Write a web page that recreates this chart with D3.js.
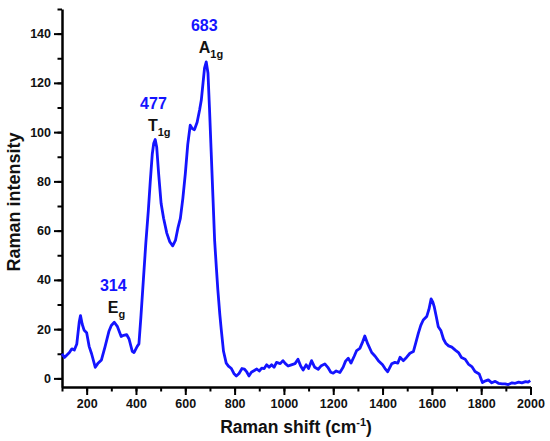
<!DOCTYPE html>
<html>
<head>
<meta charset="utf-8">
<script src="https://cdn.jsdelivr.net/npm/d3@7"></script>
<style>
  body { margin: 0; background: #fff; }
  text { font-family: Arial, "Liberation Sans", sans-serif; }
</style>
</head>
<body>
<div id="chart"></div>
<script>
// Raman spectrum
var ramanShift = [100, 110, 120, 130, 140, 150, 160, 170, 175, 182, 190, 200, 210, 220, 235, 245, 260, 275, 290, 300,
    312, 325, 340, 350, 362, 372, 385, 392, 405, 412, 420, 430, 440, 450, 458, 466, 472, 478, 484, 492,
    502, 512, 525, 537, 549, 560, 570, 580, 590, 600, 610, 620, 628, 637, 648, 658, 665, 672, 678, 685,
    692, 698, 705, 712, 719, 726, 732, 740, 746, 755, 766, 775, 787, 797, 807, 818, 830, 840, 850, 858,
    868, 880, 890, 900, 910, 920, 930, 940, 950, 960, 970, 985, 996, 1006, 1017, 1030, 1045, 1057, 1068, 1078,
    1090, 1100, 1112, 1125, 1139, 1150, 1166, 1178, 1190, 1200, 1212, 1227, 1240, 1250, 1261, 1272, 1285, 1295, 1308, 1318,
    1328, 1340, 1356, 1370, 1383, 1400, 1410, 1421, 1437, 1450, 1462, 1471, 1484, 1497, 1511, 1525, 1535, 1545, 1555, 1565,
    1579, 1588, 1597, 1604, 1610, 1618, 1626, 1637, 1647, 1656, 1668, 1681, 1695, 1708, 1720, 1735, 1748, 1762, 1775, 1792,
    1805, 1818, 1829, 1843, 1857, 1870, 1885, 1897, 1910, 1925, 1938, 1952, 1965, 1980, 1990, 1999];
var intensity = [10, 8.5, 9.5, 10.5, 12, 11.5, 14, 23, 25.5, 22, 19.5, 18.5, 13, 10, 4.5, 6, 7.5, 13, 19, 21.5,
    22.8, 21, 17, 17.5, 17.8, 16, 11, 10.5, 13, 14, 25, 40, 55, 68, 80, 91, 95.5, 97, 94, 83,
    71, 65, 59, 55.5, 53.8, 56, 61, 65, 73, 83, 95, 102.8, 101.5, 101, 104, 109, 113, 120, 126, 128.5,
    124, 110, 92, 74, 56, 45, 36, 26, 19.7, 11, 6.2, 5, 4, 2, 1, 2, 4, 3.8, 2.5, 1,
    2.5, 3.2, 3.8, 3, 4.2, 4, 5.5, 4.5, 5.5, 4.5, 6.5, 6, 7.2, 6, 5, 5.5, 6, 7.8, 5, 3.4,
    5.5, 4, 7.2, 4.5, 3.7, 5, 5.9, 4.5, 2.5, 2.1, 3, 2.4, 4.5, 7, 8.2, 6.2, 9, 11.3, 12.2, 14.5,
    17.2, 14, 10.5, 9, 7.2, 5.5, 4, 2.7, 5.9, 6.5, 6.2, 8.6, 7.2, 8.5, 10.2, 10.9, 14.5, 18.3, 21.5, 23.7,
    25.1, 28, 32.3, 31, 28.9, 25, 21, 19.3, 16, 14.3, 13.2, 12.7, 11.5, 10.5, 8.5, 7.8, 5.8, 4.8, 2.8, 1.8,
    -1.7, -1, -0.6, -1.8, -1.2, -2, -2.2, -2.2, -2.5, -1.8, -2, -1.5, -1.8, -1.3, -1.5, -0.9];

// peak annotations
var peakShift = [314, 477, 683];
var peakHeight = [22.8, 97, 128.5];
var peakSymbol = ["E", "T", "A"];
var peakSub = ["g", "1g", "1g"];

var xTicks = [200, 400, 600, 800, 1000, 1200, 1400, 1600, 1800, 2000];
var yTicks = [0, 20, 40, 60, 80, 100, 120, 140];

var width = 550, height = 441;
var blue = "#1414ff";

var svg = d3.select("#chart")
    .append("svg")
    .attr("width", width)
    .attr("height", height);

var x = d3.scaleLinear().domain([100, 2000]).range([62, 530.5]);
var y = d3.scaleLinear().domain([-3.5, 150]).range([387, 9]);

// minor ticks
svg.append("g")
    .attr("transform", "translate(0,387)")
    .call(d3.axisBottom(x).tickValues(d3.range(100, 2001, 100)).tickSize(4.5).tickFormat(""))
    .call(function(g) { g.select(".domain").remove(); })
    .selectAll("line").attr("stroke", "#000").attr("stroke-width", 2);
svg.append("g")
    .attr("transform", "translate(62,0)")
    .call(d3.axisLeft(y).tickValues(d3.range(0, 151, 10)).tickSize(4.5).tickFormat(""))
    .call(function(g) { g.select(".domain").remove(); })
    .selectAll("line").attr("stroke", "#000").attr("stroke-width", 2);

// major ticks + labels
var xAxis = svg.append("g")
    .attr("transform", "translate(0,387)")
    .call(d3.axisBottom(x).tickValues(xTicks).tickFormat(d3.format("d"))
        .tickSize(8).tickPadding(4).tickSizeOuter(0));
var yAxis = svg.append("g")
    .attr("transform", "translate(62,0)")
    .call(d3.axisLeft(y).tickValues(yTicks).tickFormat(d3.format("d"))
        .tickSize(8).tickPadding(3).tickSizeOuter(0));

[xAxis, yAxis].forEach(function(g) {
    g.select(".domain").attr("stroke", "#000").attr("stroke-width", 2.5);
    g.selectAll(".tick line").attr("stroke", "#000").attr("stroke-width", 2);
    g.selectAll(".tick text")
        .attr("fill", "#111")
        .attr("font-size", "12.5px")
        .attr("font-weight", "bold")
        .attr("font-family", "Arial, 'Liberation Sans', sans-serif");
});

// spectrum
var line = d3.line()
    .x(function(d, i) { return x(ramanShift[i]); })
    .y(function(d) { return y(d); });

svg.append("path")
    .datum(intensity)
    .attr("d", line)
    .attr("fill", "none")
    .attr("stroke", blue)
    .attr("stroke-width", 2.8)
    .attr("stroke-linejoin", "round");

// peak labels
peakShift.forEach(function(p, i) {
    svg.append("text")
        .attr("x", x(p) - 1.5)
        .attr("y", y(peakHeight[i]) - 31)
        .attr("text-anchor", "middle")
        .attr("fill", blue)
        .attr("font-size", "16px")
        .attr("font-weight", "bold")
        .text(p);

    var t = svg.append("text")
        .attr("x", x(p) - 7)
        .attr("y", y(peakHeight[i]) - 9)
        .attr("fill", "#111")
        .attr("font-size", "16px")
        .attr("font-weight", "bold");
    t.append("tspan").text(peakSymbol[i]);
    t.append("tspan")
        .attr("dy", 5)
        .attr("font-size", "11px")
        .text(peakSub[i]);
});

// axis titles
svg.append("text")
    .attr("transform", "translate(20,202) rotate(-90)")
    .attr("text-anchor", "middle")
    .attr("fill", "#111")
    .attr("font-size", "18px")
    .attr("font-weight", "bold")
    .text("Raman intensity");

var xt = svg.append("text")
    .attr("x", 296)
    .attr("y", 433)
    .attr("text-anchor", "middle")
    .attr("fill", "#111")
    .attr("font-size", "17.5px")
    .attr("font-weight", "bold");
xt.append("tspan").text("Raman shift (cm");
xt.append("tspan").attr("dy", -7).attr("font-size", "11px").text("-1");
xt.append("tspan").attr("dy", 7).text(")");
</script>
</body>
</html>
